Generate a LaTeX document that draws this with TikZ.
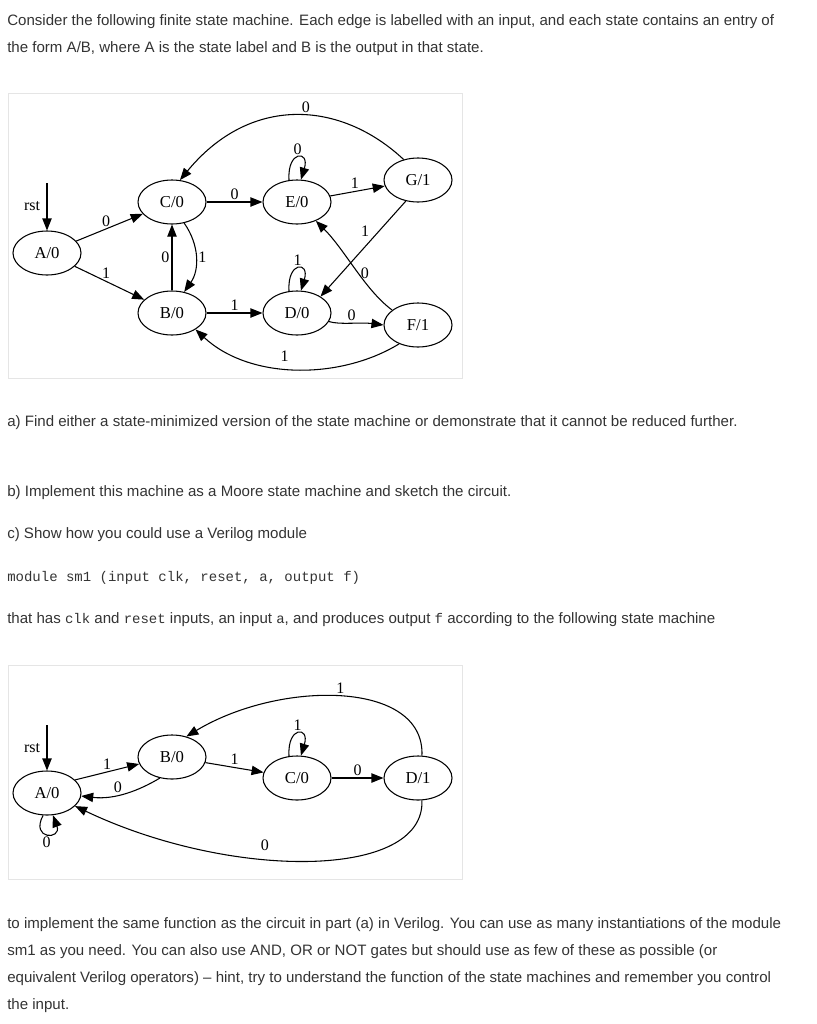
\documentclass[tikz,border=0pt]{standalone}
\usepackage{fontspec}
\setmainfont{Liberation Sans}
\setmonofont{Liberation Mono}
\newfontfamily\dfont{Liberation Serif}
\usetikzlibrary{arrows.meta,shapes.geometric}
\begin{document}
\begin{tikzpicture}[x=0.75pt,y=-0.75pt,
  st/.style={ellipse,draw,line width=0.8pt,minimum width=51pt,minimum height=33pt,inner sep=0pt,font=\dfont\fontsize{12.5}{14}\selectfont},
  ed/.style={-{Triangle[length=9pt,width=7pt]},line width=0.8pt},
  lbl/.style={font=\dfont\fontsize{12}{14}\selectfont,inner sep=1.5pt},
  txt/.style={anchor=west,inner sep=0pt,font=\fontsize{11.3}{13}\selectfont,text=black!80},
  frm/.style={draw=black!10,line width=0.5pt}]
\useasboundingbox (0,0) rectangle (817,1024);
\node[txt] (t1) at (7,22) {Consider the following finite state machine. Each edge is labelled with an input, and each state contains an entry of};
\node[txt] (t2) at (7,49) {the form A/B, where A is the state label and B is the output in that state.};
\draw[frm] (8,93) rectangle (462,378);
% diagram 1
\node[st] (A) at (47,253) {A/0};
\node[st] (C) at (172,202) {C/0};
\node[st] (E) at (297,202) {E/0};
\node[st] (G) at (418,180) {G/1};
\node[st] (B) at (172,313) {B/0};
\node[st] (D) at (297,313) {D/0};
\node[st] (F) at (418,325) {F/1};
\coordinate (r1) at (47,183);
\node[lbl] (rl1) at (32,206) {rst};
\draw[ed] (r1) -- (A);
\draw[ed] (A) -- node[lbl,above,pos=0.45] {0} (C);
\draw[ed] (A) -- node[lbl,above,pos=0.45] {1} (B);
\draw[ed] (B) -- node[lbl,left] {0} (C);
\draw[ed] (C.-60) to[bend left=35] node[lbl,right] {1} (B.60);
\draw[ed] (C) -- node[lbl,above] {0} (E);
\draw[ed] (E.110) .. controls (287,150) and (310,150) .. node[lbl,above] {0} (E.80);
\draw[ed] (E) -- node[lbl,above,pos=0.45] {1} (G);
\draw[ed] (G.-120) -- node[lbl,above left,pos=0.4] {1} (D.35);
\draw[ed] (F.150) .. controls (365,290) and (345,250) .. node[lbl,right,pos=0.45] {0} (E.-45);
\draw[ed] (D.110) .. controls (287,261) and (310,261) .. node[lbl,above] {1} (D.80);
\draw[ed] (B) -- node[lbl,above] {1} (D);
\draw[ed] (D.-15) .. controls (340,325) and (360,322) .. node[lbl,above] {0} (F.180);
\draw[ed] (F.-135) .. controls (340,380) and (250,380) .. node[lbl,above=3pt,pos=0.55] {1} (B.-35);
\draw[ed] (G.125) .. controls (340,100) and (250,95) .. node[lbl,above,pos=0.45] {0} (C.70);
\node[txt] (t3) at (7,423) {a) Find either a state-minimized version of the state machine or demonstrate that it cannot be reduced further.};
\node[txt] (t4) at (7,493) {b) Implement this machine as a Moore state machine and sketch the circuit.};
\node[txt] (t5) at (7,535) {c) Show how you could use a Verilog module};
\node[txt,font=\ttfamily\fontsize{10.5}{12}\selectfont] (t6) at (7,578) {module sm1 (input clk, reset, a, output f)};
\node[txt] (t7) at (7,620) {that has {\ttfamily\fontsize{10.5}{12}\selectfont clk} and {\ttfamily\fontsize{10.5}{12}\selectfont reset} inputs, an input {\ttfamily\fontsize{10.5}{12}\selectfont a}, and produces output {\ttfamily\fontsize{10.5}{12}\selectfont f} according to the following state machine};
\draw[frm] (8,665) rectangle (462,879);
% diagram 2
\node[st] (A2) at (47,793) {A/0};
\node[st] (B2) at (172,757) {B/0};
\node[st] (C2) at (297,778) {C/0};
\node[st] (D2) at (418,778) {D/1};
\coordinate (r2) at (47,725);
\node[lbl] (rl2) at (32,748) {rst};
\draw[ed] (r2) -- (A2);
\draw[ed] (A2.25) -- node[lbl,above,pos=0.5] {1} (B2.192);
\draw[ed] (B2.-120) .. controls (140,790) and (115,800) .. node[lbl,above,pos=0.6] {0} (A2.-5);
\draw[ed] (B2) -- node[lbl,above] {1} (C2);
\draw[ed] (C2.110) .. controls (287,726) and (310,726) .. node[lbl,above] {1} (C2.80);
\draw[ed] (C2) -- node[lbl,above] {0} (D2);
\draw[ed] (D2.80) .. controls (425,680) and (280,680) .. node[lbl,above,pos=0.5] {1} (B2.55);
\draw[ed] (D2.-80) .. controls (425,880) and (230,880) .. node[lbl,above=4pt,pos=0.6] {0} (A2.-25);
\draw[ed] (A2.-100) .. controls (30,840) and (62,840) .. node[lbl,below] {0} (A2.-75);
\node[txt] (t8) at (7,925) {to implement the same function as the circuit in part (a) in Verilog. You can use as many instantiations of the module};
\node[txt] (t9) at (7,952) {sm1 as you need. You can also use AND, OR or NOT gates but should use as few of these as possible (or};
\node[txt] (t10) at (7,979) {equivalent Verilog operators) – hint, try to understand the function of the state machines and remember you control};
\node[txt] (t11) at (7,1006) {the input.};
\end{tikzpicture}
\end{document}
